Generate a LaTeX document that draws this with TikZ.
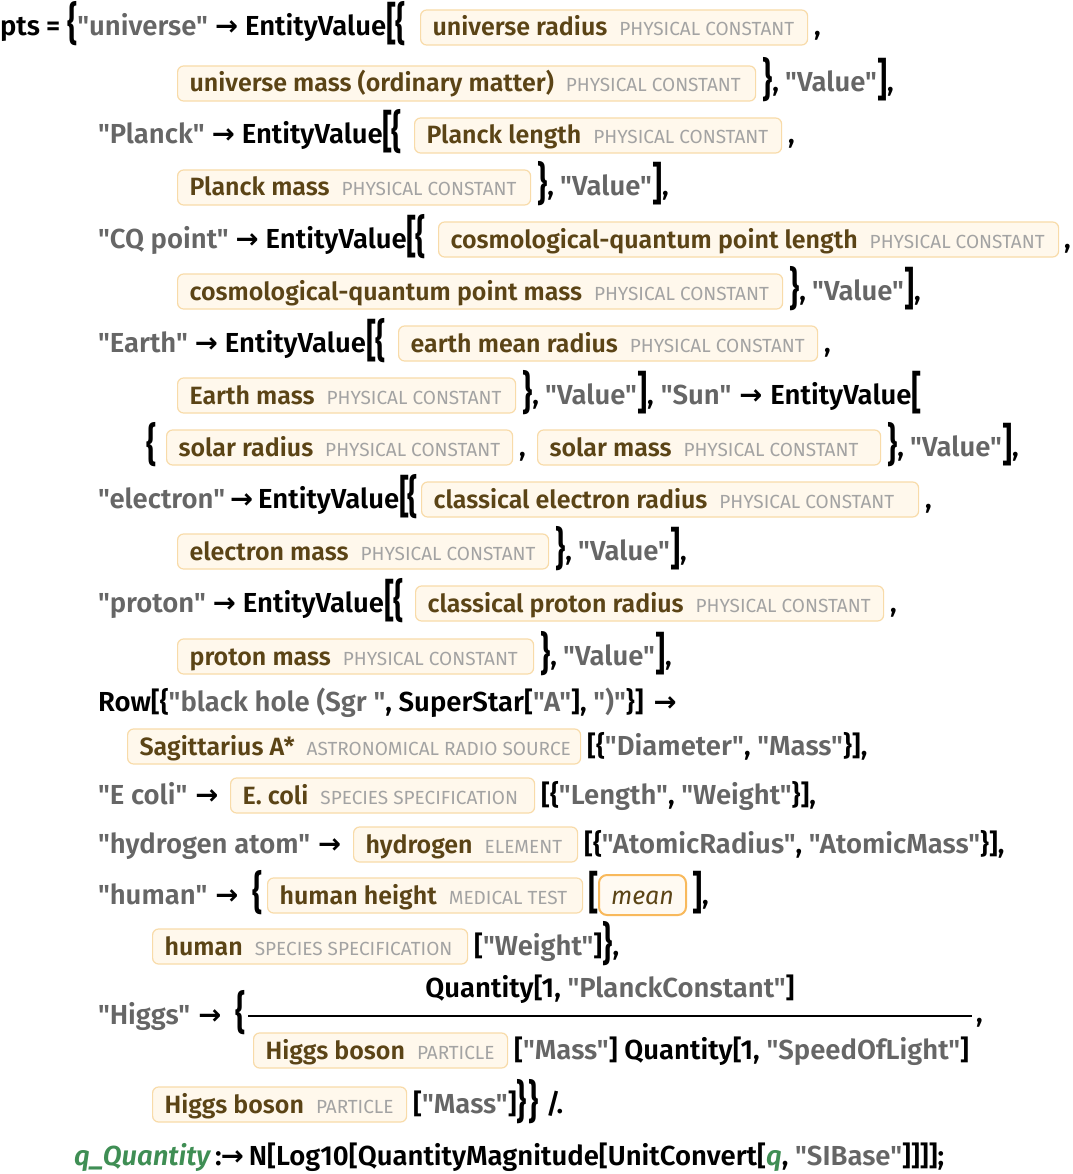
\documentclass[tikz,border=0pt]{standalone}
\usepackage{fontspec}
\newfontfamily\codefont{Fira Sans}[BoldFont={* SemiBold},BoldItalicFont={* SemiBold Italic}]
\newfontfamily\arrfont{DejaVu Sans}
\usetikzlibrary{calc}
\definecolor{strc}{HTML}{666666}
\definecolor{ename}{HTML}{5B4416}
\definecolor{etype}{HTML}{A3A3A3}
\definecolor{eborder}{HTML}{F8DBA9}
\definecolor{efill}{HTML}{FFF8EC}
\definecolor{meanborder}{HTML}{F8B95C}
\definecolor{meanfill}{HTML}{FFFAF2}
\definecolor{qgreen}{HTML}{3F8E54}
\newcommand\mainsz{\codefont\fontsize{27.5}{32}\selectfont\bfseries}
\newcommand\namefnt{\fontsize{25}{30}\selectfont}
\newcommand\typefnt{\fontsize{19}{22}\selectfont\mdseries}
\newcommand\Sq[1]{\textcolor{strc}{"#1"}}
\newcommand\ra{{\arrfont\bfseries →}}
\newcommand\tall[1]{\raisebox{-4pt}{\scalebox{1.15}[1.65]{#1}}}
\newcommand\ent[3]{\makebox[\dimexpr#1pt-24pt\relax][l]{\namefnt\textcolor{ename}{#2}\hspace{12pt}{\typefnt\textcolor{etype}{#3}}}}
\tikzset{
  seg/.style={anchor=base west, inner sep=0pt, outer sep=0pt, font=\mainsz},
  ebox/.style={anchor=base west, draw=eborder, fill=efill, line width=1.2pt, rounded corners=6pt,
    inner xsep=12pt, inner ysep=0pt, text height=26pt, text depth=9pt, font=\mainsz},
  meanbox/.style={anchor=base west, draw=meanborder, fill=meanfill, line width=2pt, rounded corners=8pt,
    inner xsep=0pt, inner ysep=0pt, text height=29pt, text depth=11pt, minimum width=87pt,
    font=\codefont\fontsize{25}{30}\selectfont\mdseries\itshape},
}
\begin{document}
\begin{tikzpicture}[x=1pt,y=-1pt]
\fill[white] (0,0) rectangle (1072,1174);
\useasboundingbox (0,0) rectangle (1072,1174);
% line 1
\node[seg] (l1a) at (0,36) {pts\hspace{6pt}=\kern7pt};
\node[seg] (l1b) at (l1a.base east) {\tall{\{}};
\node[seg] (l1c) at (l1b.base east) {\Sq{universe}\hspace{7pt}\ra\hspace{7pt}EntityValue};
\node[seg] (l1d) at (l1c.base east) {\tall{[\kern-1pt\{}};
\node[ebox] (l1e) at (420,36) {\ent{387}{universe radius}{PHYSICAL CONSTANT}};
\node[seg] (l1f) at ($(l1e.base east)+(6,0)$) {,};
% line 2
\node[ebox] (l2a) at (177,92) {\ent{578}{universe mass (ordinary matter)}{PHYSICAL CONSTANT}};
\node[seg] (l2b) at ($(l2a.base east)+(6,0)$) {\tall{\}}};
\node[seg] (l2c) at (l2b.base east) {,\hspace{6pt}\Sq{Value}};
\node[seg] (l2d) at (l2c.base east) {\tall{]}};
\node[seg] (l2e) at (l2d.base east) {,};
% line 3
\node[seg] (l3a) at (98,144) {\Sq{Planck}\hspace{7pt}\ra\hspace{7pt}EntityValue};
\node[seg] (l3b) at (l3a.base east) {\tall{[\kern-1pt\{}};
\node[ebox] (l3c) at (414,144) {\ent{367}{Planck length}{PHYSICAL CONSTANT}};
\node[seg] (l3d) at ($(l3c.base east)+(6,0)$) {,};
% line 4
\node[ebox] (l4a) at (177,196) {\ent{353}{Planck mass}{PHYSICAL CONSTANT}};
\node[seg] (l4b) at ($(l4a.base east)+(6,0)$) {\tall{\}}};
\node[seg] (l4c) at (l4b.base east) {,\hspace{6pt}\Sq{Value}};
\node[seg] (l4d) at (l4c.base east) {\tall{]}};
\node[seg] (l4e) at (l4d.base east) {,};
% line 5
\node[seg] (l5a) at (98,248) {\Sq{CQ point}\hspace{7pt}\ra\hspace{7pt}EntityValue};
\node[seg] (l5b) at (l5a.base east) {\tall{[\kern-1pt\{}};
\node[ebox] (l5c) at (438,248) {\ent{620}{cosmological-quantum point length}{PHYSICAL CONSTANT}};
\node[seg] (l5d) at ($(l5c.base east)+(5,0)$) {,};
% line 6
\node[ebox] (l6a) at (177,300) {\ent{605}{cosmological-quantum point mass}{PHYSICAL CONSTANT}};
\node[seg] (l6b) at ($(l6a.base east)+(6,0)$) {\tall{\}}};
\node[seg] (l6c) at (l6b.base east) {,\hspace{6pt}\Sq{Value}};
\node[seg] (l6d) at (l6c.base east) {\tall{]}};
\node[seg] (l6e) at (l6d.base east) {,};
% line 7
\node[seg] (l7a) at (98,352) {\Sq{Earth}\hspace{7pt}\ra\hspace{7pt}EntityValue};
\node[seg] (l7b) at (l7a.base east) {\tall{[\kern-1pt\{}};
\node[ebox] (l7c) at (398,352) {\ent{419}{earth mean radius}{PHYSICAL CONSTANT}};
\node[seg] (l7d) at ($(l7c.base east)+(6,0)$) {,};
% line 8
\node[ebox] (l8a) at (177,404) {\ent{338}{Earth mass}{PHYSICAL CONSTANT}};
\node[seg] (l8b) at ($(l8a.base east)+(6,0)$) {\tall{\}}};
\node[seg] (l8c) at (l8b.base east) {,\hspace{6pt}\Sq{Value}};
\node[seg] (l8d) at (l8c.base east) {\tall{]}};
\node[seg] (l8e) at (l8d.base east) {,\hspace{7pt}\Sq{Sun}\hspace{8pt}\ra\hspace{8pt}EntityValue};
\node[seg] (l8f) at (l8e.base east) {\tall{[}};
% line 9
\node[seg] (l9a) at (146,456) {\tall{\{}};
\node[ebox] (l9b) at (166,456) {\ent{346}{solar radius}{PHYSICAL CONSTANT}};
\node[seg] (l9c) at ($(l9b.base east)+(6,0)$) {,};
\node[ebox] (l9d) at (537,456) {\ent{343}{solar mass}{PHYSICAL CONSTANT}};
\node[seg] (l9e) at ($(l9d.base east)+(6,0)$) {\tall{\}}};
\node[seg] (l9f) at (l9e.base east) {,\hspace{6pt}\Sq{Value}};
\node[seg] (l9g) at (l9f.base east) {\tall{]}};
\node[seg] (l9h) at (l9g.base east) {,};
% line 10
\node[seg] (l10a) at (98,508) {\Sq{electron}\hspace{5pt}\ra\hspace{5pt}EntityValue};
\node[seg] (l10b) at (l10a.base east) {\tall{[\kern-1.5pt\{}};
\node[ebox] (l10c) at (421,508) {\ent{497}{classical electron radius}{PHYSICAL CONSTANT}};
\node[seg] (l10d) at ($(l10c.base east)+(6,0)$) {,};
% line 11
\node[ebox] (l11a) at (177,560) {\ent{371}{electron mass}{PHYSICAL CONSTANT}};
\node[seg] (l11b) at ($(l11a.base east)+(6,0)$) {\tall{\}}};
\node[seg] (l11c) at (l11b.base east) {,\hspace{6pt}\Sq{Value}};
\node[seg] (l11d) at (l11c.base east) {\tall{]}};
\node[seg] (l11e) at (l11d.base east) {,};
% line 12
\node[seg] (l12a) at (98,612) {\Sq{proton}\hspace{7pt}\ra\hspace{7pt}EntityValue};
\node[seg] (l12b) at (l12a.base east) {\tall{[\kern-1pt\{}};
\node[ebox] (l12c) at (415,612) {\ent{468}{classical proton radius}{PHYSICAL CONSTANT}};
\node[seg] (l12d) at ($(l12c.base east)+(6,0)$) {,};
% line 13
\node[ebox] (l13a) at (177,665) {\ent{356}{proton mass}{PHYSICAL CONSTANT}};
\node[seg] (l13b) at ($(l13a.base east)+(6,0)$) {\tall{\}}};
\node[seg] (l13c) at (l13b.base east) {,\hspace{6pt}\Sq{Value}};
\node[seg] (l13d) at (l13c.base east) {\tall{]}};
\node[seg] (l13e) at (l13d.base east) {,};
% line 14
\node[seg] (l14a) at (98,711) {Row[\{\Sq{black hole (Sgr\ }, SuperStar[\Sq{A}], \Sq{)}\}]\hspace{10pt}\ra};
% line 15
\node[ebox] (l15a) at (127,755) {\ent{453}{Sagittarius A*}{ASTRONOMICAL RADIO SOURCE}};
\node[seg] (l15b) at ($(l15a.base east)+(6,0)$) {[\{\Sq{Diameter}, \Sq{Mass}\}],};
% line 16
\node[seg] (l16a) at (98,804) {\Sq{E coli}\hspace{8pt}\ra};
\node[ebox] (l16b) at (230,804) {\ent{304}{E. coli}{SPECIES SPECIFICATION}};
\node[seg] (l16c) at ($(l16b.base east)+(6,0)$) {[\{\Sq{Length}, \Sq{Weight}\}],};
% line 17
\node[seg] (l17a) at (98,853) {\Sq{hydrogen atom}\hspace{8pt}\ra};
\node[ebox] (l17b) at (353,853) {\ent{224}{hydrogen}{ELEMENT}};
\node[seg] (l17c) at ($(l17b.base east)+(6,0)$) {[\{\Sq{AtomicRadius}, \Sq{AtomicMass}\}],};
% line 18
\node[seg] (l18a) at (98,904) {\Sq{human}\hspace{8pt}\ra};
\node[ebox] (l18c) at (267,904) {\ent{315}{human height}{MEDICAL TEST}};
\node[seg, anchor=base east] (l18b) at ($(l18c.base west)+(-4,0)$) {\tall{\{}};
\node[seg] (l18d) at ($(l18c.base east)+(5,0)$) {\tall{[}};
\node[meanbox] (l18e) at (598,904) {\textcolor{ename}{mean}};
\node[seg] (l18f) at ($(l18e.base east)+(5,0)$) {\tall{]}};
\node[seg] (l18g) at (l18f.base east) {,};
% line 19
\node[ebox] (l19a) at (152,955) {\ent{315}{human}{SPECIES SPECIFICATION}};
\node[seg] (l19b) at ($(l19a.base east)+(6,0)$) {[\Sq{Weight}]};
\node[seg] (l19c) at (l19b.base east) {\tall{\}}};
\node[seg] (l19d) at (l19c.base east) {,};
% line 20: Higgs fraction
\coordinate (barL) at (248,1016);
\coordinate (barR) at (972,1016);
\draw[line width=2.6pt] (barL) -- (barR);
\node[seg, anchor=base] (l20n) at ($(barL)!0.5!(barR)+(0,-19)$) {Quantity[1, \Sq{PlanckConstant}]};
\node[seg] (l20a) at (98,1024) {\Sq{Higgs}\hspace{8pt}\ra};
\node[seg, anchor=base east] (l20b) at ($(barL)+(-2,8)$) {\tall{\{}};
\node[seg] (l20c) at ($(barR)+(4,6)$) {,};
% line 21
\node[ebox] (l21a) at (253,1059) {\ent{254}{Higgs boson}{PARTICLE}};
\node[seg] (l21b) at ($(l21a.base east)+(6,0)$) {[\Sq{Mass}] Quantity[1, \Sq{SpeedOfLight}]};
% line 22
\node[ebox] (l22a) at (152,1113) {\ent{254}{Higgs boson}{PARTICLE}};
\node[seg] (l22b) at ($(l22a.base east)+(6,0)$) {[\Sq{Mass}]};
\node[seg] (l22c) at (l22b.base east) {\tall{\}\kern1pt\}}};
\node[seg] (l22d) at (l22c.base east) {\kern8pt/.};
% line 23
\node[seg] (l23a) at (74,1165) {\textcolor{qgreen}{\itshape q\_Quantity}\hspace{5pt}:\hspace{-1pt}\ra\hspace{5pt}N[Log10[QuantityMagnitude[UnitConvert[\textcolor{qgreen}{\itshape q}, \Sq{SIBase}]]]];};
\end{tikzpicture}
\end{document}
